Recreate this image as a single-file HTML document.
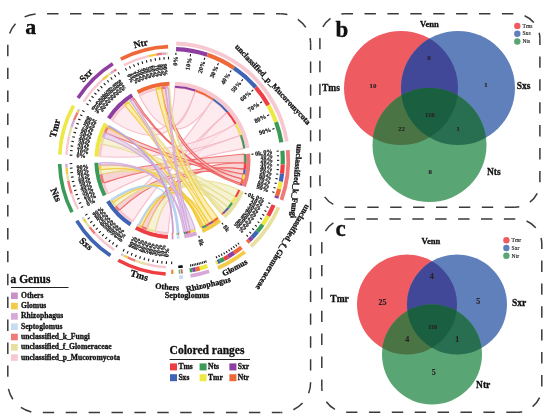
<!DOCTYPE html>
<html><head><meta charset="utf-8"><style>
html,body{margin:0;padding:0;background:#fff;width:550px;height:420px;overflow:hidden}
svg{position:absolute;left:0;top:0;display:block}
text{font-family:"Liberation Serif","Times New Roman",serif;font-weight:bold;fill:#111;stroke:#111;stroke-width:0.3px}
.tl{font-size:6px;fill:#1a1a1a;stroke:#1a1a1a;stroke-width:0.25px}
.tlg{font-size:6.2px;fill:#1a1a1a;stroke:#1a1a1a;stroke-width:0.2px}
.sl{font-size:9.6px}
.gl{font-size:8.2px}
.lt{font-size:11.5px}
.li{font-size:7.6px}
.vn{font-size:6.8px;fill:#2a2226;stroke:#2a2226;stroke-width:0.15px}
.vn2{font-size:8px;fill:#2a2226;stroke:#2a2226;stroke-width:0.15px}
.vl{font-size:9.5px}
.vt{font-size:8.6px}
.lg{font-size:5.6px;font-weight:normal;fill:#222;stroke:#222;stroke-width:0.15px}
.pl{font-size:23px}
</style></head><body>
<svg width="550" height="420" viewBox="0 0 550 420">
<rect width="550" height="420" fill="#fff"/>
<g fill="none" stroke="#3a3a3a" stroke-width="1.5" stroke-dasharray="11.4 11.5"><path d="M37.80,13.80L280.60,13.80" stroke-dashoffset="13.60"/>
<path d="M280.60,13.80A30,30 0 0 1 310.60,43.80" stroke-dashoffset="4.50"/>
<path d="M310.60,43.80L310.60,382.60" stroke-dashoffset="5.20"/>
<path d="M310.60,382.60A30,30 0 0 1 280.60,412.60" stroke-dashoffset="0.50"/>
<path d="M280.60,412.60L37.80,412.60" stroke-dashoffset="2.60"/>
<path d="M37.80,412.60A30,30 0 0 1 7.80,382.60" stroke-dashoffset="16.40"/>
<path d="M7.80,382.60L7.80,43.80" stroke-dashoffset="17.10"/>
<path d="M7.80,43.80A30,30 0 0 1 37.80,13.80" stroke-dashoffset="12.40"/>
<path d="M344.90,13.80L514.90,13.80" stroke-dashoffset="3.30"/>
<path d="M514.90,13.80A25,25 0 0 1 539.90,38.80" stroke-dashoffset="13.00"/>
<path d="M539.90,38.80L539.90,182.20" stroke-dashoffset="5.30"/>
<path d="M539.90,182.20A25,25 0 0 1 514.90,207.20" stroke-dashoffset="11.30"/>
<path d="M514.90,207.20L344.90,207.20" stroke-dashoffset="1.20"/>
<path d="M344.90,207.20A25,25 0 0 1 319.90,182.20" stroke-dashoffset="10.90"/>
<path d="M319.90,182.20L319.90,38.80" stroke-dashoffset="4.50"/>
<path d="M319.90,38.80A25,25 0 0 1 344.90,13.80" stroke-dashoffset="10.50"/>
<path d="M346.80,219.00L516.80,219.00" stroke-dashoffset="3.20"/>
<path d="M516.80,219.00A25,25 0 0 1 541.80,244.00" stroke-dashoffset="12.90"/>
<path d="M541.80,244.00L541.80,387.30" stroke-dashoffset="6.40"/>
<path d="M541.80,387.30A25,25 0 0 1 516.80,412.30" stroke-dashoffset="12.30"/>
<path d="M516.80,412.30L346.80,412.30" stroke-dashoffset="0.90"/>
<path d="M346.80,412.30A25,25 0 0 1 321.80,387.30" stroke-dashoffset="10.60"/>
<path d="M321.80,387.30L321.80,244.00" stroke-dashoffset="3.50"/>
<path d="M321.80,244.00A25,25 0 0 1 346.80,219.00" stroke-dashoffset="9.40"/></g>
<text x="25.2" y="33.7" class="pl" style="font-size:22px">a</text>
<text x="335.4" y="36.9" class="pl">b</text>
<text x="335.4" y="236" class="pl">c</text>
<g transform="translate(172.4 160.4) scale(1 1.009) translate(-172.4 -160.4)"><g><path d="M174.79,88.44A72.0,72.0 0 0 1 195.13,92.08Q172.4,160.4 112.15,120.98A72.0,72.0 0 0 1 125.16,106.06Q172.4,160.4 174.79,88.44Z" fill="#fce4ea" fill-opacity="0.75" stroke="#f5b5c2" stroke-width="1.1" stroke-opacity="0.85"/><path d="M195.13,92.08A72.0,72.0 0 0 1 212.56,100.64Q172.4,160.4 139.49,96.36A72.0,72.0 0 0 1 156.08,90.27Q172.4,160.4 195.13,92.08Z" fill="#fce4ea" fill-opacity="0.75" stroke="#f5b5c2" stroke-width="1.1" stroke-opacity="0.85"/><path d="M212.56,100.64A72.0,72.0 0 0 1 226.74,113.16Q172.4,160.4 132.87,220.58A72.0,72.0 0 0 1 119.74,209.50Q172.4,160.4 212.56,100.64Z" fill="#fce4ea" fill-opacity="0.75" stroke="#f5b5c2" stroke-width="1.1" stroke-opacity="0.85"/><path d="M226.74,113.16A72.0,72.0 0 0 1 234.94,124.73Q172.4,160.4 168.13,232.27A72.0,72.0 0 0 1 154.98,230.26Q172.4,160.4 226.74,113.16Z" fill="#fce4ea" fill-opacity="0.75" stroke="#f5b5c2" stroke-width="1.1" stroke-opacity="0.85"/><path d="M234.94,124.73A72.0,72.0 0 0 1 240.01,135.66Q172.4,160.4 100.49,156.76A72.0,72.0 0 0 1 102.25,144.20Q172.4,160.4 234.94,124.73Z" fill="#fce4ea" fill-opacity="0.75" stroke="#f5b5c2" stroke-width="1.1" stroke-opacity="0.85"/><path d="M240.01,135.66A72.0,72.0 0 0 1 243.45,148.76Q172.4,160.4 108.30,193.20A72.0,72.0 0 0 1 103.92,182.65Q172.4,160.4 240.01,135.66Z" fill="#fce4ea" fill-opacity="0.75" stroke="#f5b5c2" stroke-width="1.1" stroke-opacity="0.85"/><path d="M244.13,154.12A72.0,72.0 0 0 1 244.35,163.04Q172.4,160.4 103.92,182.65A72.0,72.0 0 0 1 101.68,173.89Q172.4,160.4 244.13,154.12Z" fill="#f6c4c4" fill-opacity="0.75" stroke="#ee5858" stroke-width="1.1" stroke-opacity="0.85"/><path d="M244.35,163.04A72.0,72.0 0 0 1 243.88,169.05Q172.4,160.4 147.19,227.84A72.0,72.0 0 0 1 141.97,225.65Q172.4,160.4 244.35,163.04Z" fill="#f6c4c4" fill-opacity="0.75" stroke="#ee5858" stroke-width="1.1" stroke-opacity="0.85"/><path d="M243.88,169.05A72.0,72.0 0 0 1 243.08,174.14Q172.4,160.4 119.74,209.50A72.0,72.0 0 0 1 116.21,205.42Q172.4,160.4 243.88,169.05Z" fill="#f6c4c4" fill-opacity="0.75" stroke="#ee5858" stroke-width="1.1" stroke-opacity="0.85"/><path d="M243.08,174.14A72.0,72.0 0 0 1 241.98,178.91Q172.4,160.4 105.69,133.31A72.0,72.0 0 0 1 108.02,128.16Q172.4,160.4 243.08,174.14Z" fill="#f6c4c4" fill-opacity="0.75" stroke="#ee5858" stroke-width="1.1" stroke-opacity="0.85"/><path d="M241.98,178.91A72.0,72.0 0 0 1 240.64,183.37Q172.4,160.4 161.51,89.23A72.0,72.0 0 0 1 165.62,88.72Q172.4,160.4 241.98,178.91Z" fill="#f6c4c4" fill-opacity="0.75" stroke="#ee5858" stroke-width="1.1" stroke-opacity="0.85"/><path d="M240.64,183.37A72.0,72.0 0 0 1 240.14,184.79Q172.4,160.4 132.77,100.29A72.0,72.0 0 0 1 134.35,99.27Q172.4,160.4 240.64,183.37Z" fill="#f6c4c4" fill-opacity="0.75" stroke="#ee5858" stroke-width="1.1" stroke-opacity="0.85"/><path d="M238.38,189.23A72.0,72.0 0 0 1 234.82,196.29Q172.4,160.4 154.98,230.26A72.0,72.0 0 0 1 147.19,227.84Q172.4,160.4 238.38,189.23Z" fill="#f3efc6" fill-opacity="0.75" stroke="#e6dc8a" stroke-width="1.1" stroke-opacity="0.85"/><path d="M234.82,196.29A72.0,72.0 0 0 1 231.23,201.90Q172.4,160.4 102.25,144.20A72.0,72.0 0 0 1 103.96,138.03Q172.4,160.4 234.82,196.29Z" fill="#f3efc6" fill-opacity="0.75" stroke="#e6dc8a" stroke-width="1.1" stroke-opacity="0.85"/><path d="M231.23,201.90A72.0,72.0 0 0 1 227.72,206.49Q172.4,160.4 101.68,173.89A72.0,72.0 0 0 1 101.00,169.67Q172.4,160.4 231.23,201.90Z" fill="#f3efc6" fill-opacity="0.75" stroke="#e6dc8a" stroke-width="1.1" stroke-opacity="0.85"/><path d="M227.72,206.49A72.0,72.0 0 0 1 224.37,210.23Q172.4,160.4 116.21,205.42A72.0,72.0 0 0 1 113.57,201.90Q172.4,160.4 227.72,206.49Z" fill="#f3efc6" fill-opacity="0.75" stroke="#e6dc8a" stroke-width="1.1" stroke-opacity="0.85"/><path d="M224.37,210.23A72.0,72.0 0 0 1 222.42,212.19Q172.4,160.4 128.57,103.28A72.0,72.0 0 0 1 130.59,101.78Q172.4,160.4 224.37,210.23Z" fill="#f3efc6" fill-opacity="0.75" stroke="#e6dc8a" stroke-width="1.1" stroke-opacity="0.85"/><path d="M222.42,212.19A72.0,72.0 0 0 1 221.23,213.31Q172.4,160.4 168.26,88.52A72.0,72.0 0 0 1 169.64,88.45Q172.4,160.4 222.42,212.19Z" fill="#f3efc6" fill-opacity="0.75" stroke="#e6dc8a" stroke-width="1.1" stroke-opacity="0.85"/><path d="M217.42,216.59A72.0,72.0 0 0 1 212.56,220.16Q172.4,160.4 156.08,90.27A72.0,72.0 0 0 1 161.51,89.23Q172.4,160.4 217.42,216.59Z" fill="#f9ea9c" fill-opacity="0.75" stroke="#f2c830" stroke-width="1.1" stroke-opacity="0.85"/><path d="M212.56,220.16A72.0,72.0 0 0 1 208.73,222.56Q172.4,160.4 125.16,106.06A72.0,72.0 0 0 1 128.57,103.28Q172.4,160.4 212.56,220.16Z" fill="#f9ea9c" fill-opacity="0.75" stroke="#f2c830" stroke-width="1.1" stroke-opacity="0.85"/><path d="M208.73,222.56A72.0,72.0 0 0 1 206.09,224.03Q172.4,160.4 141.97,225.65A72.0,72.0 0 0 1 139.38,224.38Q172.4,160.4 208.73,222.56Z" fill="#f9ea9c" fill-opacity="0.75" stroke="#f2c830" stroke-width="1.1" stroke-opacity="0.85"/><path d="M206.09,224.03A72.0,72.0 0 0 1 203.28,225.44Q172.4,160.4 101.00,169.67A72.0,72.0 0 0 1 100.56,165.17Q172.4,160.4 206.09,224.03Z" fill="#f9ea9c" fill-opacity="0.75" stroke="#f2c830" stroke-width="1.1" stroke-opacity="0.85"/><path d="M203.28,225.44A72.0,72.0 0 0 1 201.80,226.12Q172.4,160.4 113.57,201.90A72.0,72.0 0 0 1 112.15,199.82Q172.4,160.4 203.28,225.44Z" fill="#f9ea9c" fill-opacity="0.75" stroke="#f2c830" stroke-width="1.1" stroke-opacity="0.85"/><path d="M201.80,226.12A72.0,72.0 0 0 1 200.65,226.63Q172.4,160.4 108.02,128.16A72.0,72.0 0 0 1 108.65,126.93Q172.4,160.4 201.80,226.12Z" fill="#f9ea9c" fill-opacity="0.75" stroke="#f2c830" stroke-width="1.1" stroke-opacity="0.85"/><path d="M195.25,228.68A72.0,72.0 0 0 1 190.18,230.17Q172.4,160.4 103.96,138.03A72.0,72.0 0 0 1 105.69,133.31Q172.4,160.4 195.25,228.68Z" fill="#e4cce8" fill-opacity="0.75" stroke="#d0a8dc" stroke-width="1.1" stroke-opacity="0.85"/><path d="M190.18,230.17A72.0,72.0 0 0 1 187.49,230.80Q172.4,160.4 165.62,88.72A72.0,72.0 0 0 1 168.26,88.52Q172.4,160.4 190.18,230.17Z" fill="#e4cce8" fill-opacity="0.75" stroke="#d0a8dc" stroke-width="1.1" stroke-opacity="0.85"/><path d="M187.49,230.80A72.0,72.0 0 0 1 185.40,231.22Q172.4,160.4 130.59,101.78A72.0,72.0 0 0 1 132.77,100.29Q172.4,160.4 187.49,230.80Z" fill="#e4cce8" fill-opacity="0.75" stroke="#d0a8dc" stroke-width="1.1" stroke-opacity="0.85"/><path d="M185.40,231.22A72.0,72.0 0 0 1 183.66,231.51Q172.4,160.4 100.56,165.17A72.0,72.0 0 0 1 100.44,162.66Q172.4,160.4 185.40,231.22Z" fill="#e4cce8" fill-opacity="0.75" stroke="#d0a8dc" stroke-width="1.1" stroke-opacity="0.85"/><path d="M179.05,232.09A72.0,72.0 0 0 1 178.42,232.15Q172.4,160.4 139.38,224.38A72.0,72.0 0 0 1 138.38,223.85Q172.4,160.4 179.05,232.09Z" fill="#d8e8f8" fill-opacity="0.75" stroke="#b0d0f0" stroke-width="1.1" stroke-opacity="0.85"/><path d="M178.42,232.15A72.0,72.0 0 0 1 177.80,232.20Q172.4,160.4 112.15,199.82A72.0,72.0 0 0 1 111.34,198.55Q172.4,160.4 178.42,232.15Z" fill="#d8e8f8" fill-opacity="0.75" stroke="#b0d0f0" stroke-width="1.1" stroke-opacity="0.85"/><path d="M177.80,232.20A72.0,72.0 0 0 1 177.17,232.24Q172.4,160.4 108.89,126.49A72.0,72.0 0 0 1 109.25,125.82Q172.4,160.4 177.80,232.20Z" fill="#d8e8f8" fill-opacity="0.75" stroke="#b0d0f0" stroke-width="1.1" stroke-opacity="0.85"/><path d="M173.41,232.39A72.0,72.0 0 0 1 172.59,232.40Q172.4,160.4 108.65,126.93A72.0,72.0 0 0 1 108.89,126.49Q172.4,160.4 173.41,232.39Z" fill="#e0c0e0" fill-opacity="0.75" stroke="#c890d0" stroke-width="1.1" stroke-opacity="0.85"/></g>
<path d="M174.99,82.34A78.1,78.1 0 0 1 249.47,147.78L245.43,148.44A74.0,74.0 0 0 0 174.85,86.44Z" fill="#f8c8d0"/>
<path d="M174.85,86.44A74.0,74.0 0 0 1 195.76,90.18L195.13,92.08A72.0,72.0 0 0 0 174.79,88.44Z" fill="#8e3ea0"/>
<path d="M195.76,90.18A74.0,74.0 0 0 1 213.67,98.98L212.56,100.64A72.0,72.0 0 0 0 195.13,92.08Z" fill="#ee6838"/>
<path d="M213.67,98.98A74.0,74.0 0 0 1 228.25,111.85L226.74,113.16A72.0,72.0 0 0 0 212.56,100.64Z" fill="#4064b4"/>
<path d="M228.25,111.85A74.0,74.0 0 0 1 236.68,123.74L234.94,124.73A72.0,72.0 0 0 0 226.74,113.16Z" fill="#ee3e44"/>
<path d="M236.68,123.74A74.0,74.0 0 0 1 241.89,134.97L240.01,135.66A72.0,72.0 0 0 0 234.94,124.73Z" fill="#eee844"/>
<path d="M241.89,134.97A74.0,74.0 0 0 1 245.43,148.44L243.45,148.76A72.0,72.0 0 0 0 240.01,135.66Z" fill="#3c9a58"/>
<path d="M250.20,153.59A78.1,78.1 0 0 1 245.88,186.86L242.03,185.47A74.0,74.0 0 0 0 246.12,153.95Z" fill="#ee7a7a"/>
<path d="M246.12,153.95A74.0,74.0 0 0 1 246.35,163.11L244.35,163.04A72.0,72.0 0 0 0 244.13,154.12Z" fill="#3c9a58"/>
<path d="M246.35,163.11A74.0,74.0 0 0 1 245.86,169.29L243.88,169.05A72.0,72.0 0 0 0 244.35,163.04Z" fill="#ee3e44"/>
<path d="M245.86,169.29A74.0,74.0 0 0 1 245.04,174.52L243.08,174.14A72.0,72.0 0 0 0 243.88,169.05Z" fill="#4064b4"/>
<path d="M245.04,174.52A74.0,74.0 0 0 1 243.91,179.43L241.98,178.91A72.0,72.0 0 0 0 243.08,174.14Z" fill="#eee844"/>
<path d="M243.91,179.43A74.0,74.0 0 0 1 242.53,184.00L240.64,183.37A72.0,72.0 0 0 0 241.98,178.91Z" fill="#ee6838"/>
<path d="M242.53,184.00A74.0,74.0 0 0 1 242.03,185.47L240.14,184.79A72.0,72.0 0 0 0 240.64,183.37Z" fill="#8e3ea0"/>
<path d="M243.97,191.67A78.1,78.1 0 0 1 225.36,217.80L222.58,214.78A74.0,74.0 0 0 0 240.21,190.03Z" fill="#e8e0a0"/>
<path d="M240.21,190.03A74.0,74.0 0 0 1 236.55,197.29L234.82,196.29A72.0,72.0 0 0 0 238.38,189.23Z" fill="#ee3e44"/>
<path d="M236.55,197.29A74.0,74.0 0 0 1 232.87,203.06L231.23,201.90A72.0,72.0 0 0 0 234.82,196.29Z" fill="#eee844"/>
<path d="M232.87,203.06A74.0,74.0 0 0 1 229.25,207.77L227.72,206.49A72.0,72.0 0 0 0 231.23,201.90Z" fill="#3c9a58"/>
<path d="M229.25,207.77A74.0,74.0 0 0 1 225.81,211.62L224.37,210.23A72.0,72.0 0 0 0 227.72,206.49Z" fill="#4064b4"/>
<path d="M225.81,211.62A74.0,74.0 0 0 1 223.80,213.63L222.42,212.19A72.0,72.0 0 0 0 224.37,210.23Z" fill="#8e3ea0"/>
<path d="M223.80,213.63A74.0,74.0 0 0 1 222.58,214.78L221.23,213.31A72.0,72.0 0 0 0 222.42,212.19Z" fill="#ee6838"/>
<path d="M221.23,221.35A78.1,78.1 0 0 1 203.04,232.24L201.43,228.47A74.0,74.0 0 0 0 218.67,218.15Z" fill="#f2cc48"/>
<path d="M218.67,218.15A74.0,74.0 0 0 1 213.67,221.82L212.56,220.16A72.0,72.0 0 0 0 217.42,216.59Z" fill="#ee6838"/>
<path d="M213.67,221.82A74.0,74.0 0 0 1 209.74,224.29L208.73,222.56A72.0,72.0 0 0 0 212.56,220.16Z" fill="#8e3ea0"/>
<path d="M209.74,224.29A74.0,74.0 0 0 1 207.03,225.80L206.09,224.03A72.0,72.0 0 0 0 208.73,222.56Z" fill="#ee3e44"/>
<path d="M207.03,225.80A74.0,74.0 0 0 1 204.14,227.25L203.28,225.44A72.0,72.0 0 0 0 206.09,224.03Z" fill="#3c9a58"/>
<path d="M204.14,227.25A74.0,74.0 0 0 1 202.62,227.95L201.80,226.12A72.0,72.0 0 0 0 203.28,225.44Z" fill="#4064b4"/>
<path d="M202.62,227.95A74.0,74.0 0 0 1 201.43,228.47L200.65,226.63A72.0,72.0 0 0 0 201.80,226.12Z" fill="#eee844"/>
<path d="M197.18,234.46A78.1,78.1 0 0 1 184.62,237.54L183.98,233.49A74.0,74.0 0 0 0 195.88,230.58Z" fill="#d8a8d8"/>
<path d="M195.88,230.58A74.0,74.0 0 0 1 190.68,232.11L190.18,230.17A72.0,72.0 0 0 0 195.25,228.68Z" fill="#eee844"/>
<path d="M190.68,232.11A74.0,74.0 0 0 1 187.91,232.76L187.49,230.80A72.0,72.0 0 0 0 190.18,230.17Z" fill="#ee6838"/>
<path d="M187.91,232.76A74.0,74.0 0 0 1 185.76,233.18L185.40,231.22A72.0,72.0 0 0 0 187.49,230.80Z" fill="#8e3ea0"/>
<path d="M185.76,233.18A74.0,74.0 0 0 1 183.98,233.49L183.66,231.51A72.0,72.0 0 0 0 185.40,231.22Z" fill="#3c9a58"/>
<path d="M179.61,238.17A78.1,78.1 0 0 1 176.90,238.37L176.66,234.28A74.0,74.0 0 0 0 179.24,234.08Z" fill="#c8dcf0"/>
<path d="M179.24,234.08A74.0,74.0 0 0 1 178.59,234.14L178.42,232.15A72.0,72.0 0 0 0 179.05,232.09Z" fill="#ee3e44"/>
<path d="M178.59,234.14A74.0,74.0 0 0 1 177.95,234.19L177.80,232.20A72.0,72.0 0 0 0 178.42,232.15Z" fill="#4064b4"/>
<path d="M177.95,234.19A74.0,74.0 0 0 1 177.30,234.24L177.17,232.24A72.0,72.0 0 0 0 177.80,232.20Z" fill="#eee844"/>
<path d="M177.30,234.24A74.0,74.0 0 0 1 176.66,234.28L176.54,232.28A72.0,72.0 0 0 0 177.17,232.24Z" fill="#3c9a58"/>
<path d="M173.49,238.49A78.1,78.1 0 0 1 171.72,238.50L171.75,234.40A74.0,74.0 0 0 0 173.43,234.39Z" fill="#c990c8"/>
<path d="M173.43,234.39A74.0,74.0 0 0 1 172.59,234.40L172.59,232.40A72.0,72.0 0 0 0 173.41,232.39Z" fill="#eee844"/>
<path d="M172.59,234.40A74.0,74.0 0 0 1 171.75,234.40L171.77,232.40A72.0,72.0 0 0 0 172.59,232.40Z" fill="#ee3e44"/>
<path d="M167.77,238.36A78.1,78.1 0 0 1 134.89,228.91L136.86,225.31A74.0,74.0 0 0 0 168.01,234.27Z" fill="#ee3e44"/>
<path d="M168.01,234.27A74.0,74.0 0 0 1 154.50,232.20L154.98,230.26A72.0,72.0 0 0 0 168.13,232.27Z" fill="#f8c8d0"/>
<path d="M154.50,232.20A74.0,74.0 0 0 1 146.48,229.71L147.19,227.84A72.0,72.0 0 0 0 154.98,230.26Z" fill="#e8e0a0"/>
<path d="M146.48,229.71A74.0,74.0 0 0 1 141.13,227.47L141.97,225.65A72.0,72.0 0 0 0 147.19,227.84Z" fill="#ee7a7a"/>
<path d="M141.13,227.47A74.0,74.0 0 0 1 138.46,226.16L139.38,224.38A72.0,72.0 0 0 0 141.97,225.65Z" fill="#f2cc48"/>
<path d="M138.46,226.16A74.0,74.0 0 0 1 137.43,225.62L138.38,223.85A72.0,72.0 0 0 0 139.38,224.38Z" fill="#c8dcf0"/>
<path d="M137.43,225.62A74.0,74.0 0 0 1 136.86,225.31L137.82,223.55A72.0,72.0 0 0 0 138.38,223.85Z" fill="#c990c8"/>
<path d="M129.52,225.68A78.1,78.1 0 0 1 106.17,201.79L109.64,199.61A74.0,74.0 0 0 0 131.77,222.25Z" fill="#4064b4"/>
<path d="M131.77,222.25A74.0,74.0 0 0 1 118.28,210.87L119.74,209.50A72.0,72.0 0 0 0 132.87,220.58Z" fill="#f8c8d0"/>
<path d="M118.28,210.87A74.0,74.0 0 0 1 114.65,206.67L116.21,205.42A72.0,72.0 0 0 0 119.74,209.50Z" fill="#ee7a7a"/>
<path d="M114.65,206.67A74.0,74.0 0 0 1 111.93,203.06L113.57,201.90A72.0,72.0 0 0 0 116.21,205.42Z" fill="#e8e0a0"/>
<path d="M111.93,203.06A74.0,74.0 0 0 1 110.48,200.92L112.15,199.82A72.0,72.0 0 0 0 113.57,201.90Z" fill="#f2cc48"/>
<path d="M110.48,200.92A74.0,74.0 0 0 1 109.64,199.61L111.34,198.55A72.0,72.0 0 0 0 112.15,199.82Z" fill="#c8dcf0"/>
<path d="M102.87,195.98A78.1,78.1 0 0 1 94.34,162.85L98.44,162.72A74.0,74.0 0 0 0 106.52,194.11Z" fill="#3c9a58"/>
<path d="M106.52,194.11A74.0,74.0 0 0 1 102.02,183.27L103.92,182.65A72.0,72.0 0 0 0 108.30,193.20Z" fill="#f8c8d0"/>
<path d="M102.02,183.27A74.0,74.0 0 0 1 99.71,174.27L101.68,173.89A72.0,72.0 0 0 0 103.92,182.65Z" fill="#ee7a7a"/>
<path d="M99.71,174.27A74.0,74.0 0 0 1 99.02,169.93L101.00,169.67A72.0,72.0 0 0 0 101.68,173.89Z" fill="#e8e0a0"/>
<path d="M99.02,169.93A74.0,74.0 0 0 1 98.56,165.30L100.56,165.17A72.0,72.0 0 0 0 101.00,169.67Z" fill="#f2cc48"/>
<path d="M98.56,165.30A74.0,74.0 0 0 1 98.44,162.72L100.44,162.66A72.0,72.0 0 0 0 100.56,165.17Z" fill="#d8a8d8"/>
<path d="M94.40,156.45A78.1,78.1 0 0 1 103.89,122.89L107.49,124.86A74.0,74.0 0 0 0 98.49,156.66Z" fill="#eee844"/>
<path d="M98.49,156.66A74.0,74.0 0 0 1 100.30,143.75L102.25,144.20A72.0,72.0 0 0 0 100.49,156.76Z" fill="#f8c8d0"/>
<path d="M100.30,143.75A74.0,74.0 0 0 1 102.06,137.41L103.96,138.03A72.0,72.0 0 0 0 102.25,144.20Z" fill="#e8e0a0"/>
<path d="M102.06,137.41A74.0,74.0 0 0 1 103.84,132.56L105.69,133.31A72.0,72.0 0 0 0 103.96,138.03Z" fill="#d8a8d8"/>
<path d="M103.84,132.56A74.0,74.0 0 0 1 106.23,127.27L108.02,128.16A72.0,72.0 0 0 0 105.69,133.31Z" fill="#ee7a7a"/>
<path d="M106.23,127.27A74.0,74.0 0 0 1 106.88,126.00L108.65,126.93A72.0,72.0 0 0 0 108.02,128.16Z" fill="#f2cc48"/>
<path d="M106.88,126.00A74.0,74.0 0 0 1 107.12,125.55L108.89,126.49A72.0,72.0 0 0 0 108.65,126.93Z" fill="#c990c8"/>
<path d="M107.12,125.55A74.0,74.0 0 0 1 107.49,124.86L109.25,125.82A72.0,72.0 0 0 0 108.89,126.49Z" fill="#c8dcf0"/>
<path d="M107.05,117.64A78.1,78.1 0 0 1 131.13,94.10L133.30,97.58A74.0,74.0 0 0 0 110.48,119.88Z" fill="#8e3ea0"/>
<path d="M110.48,119.88A74.0,74.0 0 0 1 123.85,104.55L125.16,106.06A72.0,72.0 0 0 0 112.15,120.98Z" fill="#f8c8d0"/>
<path d="M123.85,104.55A74.0,74.0 0 0 1 127.35,101.69L128.57,103.28A72.0,72.0 0 0 0 125.16,106.06Z" fill="#f2cc48"/>
<path d="M127.35,101.69A74.0,74.0 0 0 1 129.43,100.16L130.59,101.78A72.0,72.0 0 0 0 128.57,103.28Z" fill="#e8e0a0"/>
<path d="M129.43,100.16A74.0,74.0 0 0 1 131.66,98.62L132.77,100.29A72.0,72.0 0 0 0 130.59,101.78Z" fill="#d8a8d8"/>
<path d="M131.66,98.62A74.0,74.0 0 0 1 133.30,97.58L134.35,99.27A72.0,72.0 0 0 0 132.77,100.29Z" fill="#ee7a7a"/>
<path d="M136.70,90.94A78.1,78.1 0 0 1 169.40,82.36L169.56,86.45A74.0,74.0 0 0 0 138.57,94.58Z" fill="#ee6838"/>
<path d="M138.57,94.58A74.0,74.0 0 0 1 155.63,88.33L156.08,90.27A72.0,72.0 0 0 0 139.49,96.36Z" fill="#f8c8d0"/>
<path d="M155.63,88.33A74.0,74.0 0 0 1 161.21,87.25L161.51,89.23A72.0,72.0 0 0 0 156.08,90.27Z" fill="#f2cc48"/>
<path d="M161.21,87.25A74.0,74.0 0 0 1 165.44,86.73L165.62,88.72A72.0,72.0 0 0 0 161.51,89.23Z" fill="#ee7a7a"/>
<path d="M165.44,86.73A74.0,74.0 0 0 1 168.14,86.52L168.26,88.52A72.0,72.0 0 0 0 165.62,88.72Z" fill="#d8a8d8"/>
<path d="M168.14,86.52A74.0,74.0 0 0 1 169.56,86.45L169.64,88.45A72.0,72.0 0 0 0 168.26,88.52Z" fill="#e8e0a0"/>
<path d="M176.31,42.66A117.8,117.8 0 0 1 288.65,141.36L284.90,141.98A114.0,114.0 0 0 0 176.18,46.46Z" fill="#f8c8d0"/>
<path d="M176.13,47.96A112.5,112.5 0 0 1 207.91,53.65L206.58,57.64A108.3,108.3 0 0 0 175.99,52.16Z" fill="#8e3ea0"/>
<path d="M207.91,53.65A112.5,112.5 0 0 1 235.15,67.02L232.80,70.51A108.3,108.3 0 0 0 206.58,57.64Z" fill="#ee6838"/>
<path d="M235.15,67.02A112.5,112.5 0 0 1 257.30,86.59L254.14,89.35A108.3,108.3 0 0 0 232.80,70.51Z" fill="#4064b4"/>
<path d="M257.30,86.59A112.5,112.5 0 0 1 270.12,104.66L266.47,106.74A108.3,108.3 0 0 0 254.14,89.35Z" fill="#ee3e44"/>
<path d="M270.12,104.66A112.5,112.5 0 0 1 278.05,121.74L274.10,123.18A108.3,108.3 0 0 0 266.47,106.74Z" fill="#eee844"/>
<path d="M278.05,121.74A112.5,112.5 0 0 1 283.42,142.22L279.28,142.90A108.3,108.3 0 0 0 274.10,123.18Z" fill="#3c9a58"/>
<path d="M289.75,150.13A117.8,117.8 0 0 1 283.24,200.30L279.66,199.02A114.0,114.0 0 0 0 285.97,150.46Z" fill="#ee7a7a"/>
<path d="M284.47,150.59A112.5,112.5 0 0 1 284.82,164.52L280.63,164.37A108.3,108.3 0 0 0 280.29,150.96Z" fill="#3c9a58"/>
<path d="M284.82,164.52A112.5,112.5 0 0 1 284.09,173.92L279.92,173.41A108.3,108.3 0 0 0 280.63,164.37Z" fill="#ee3e44"/>
<path d="M284.09,173.92A112.5,112.5 0 0 1 282.83,181.87L278.71,181.06A108.3,108.3 0 0 0 279.92,173.41Z" fill="#4064b4"/>
<path d="M282.83,181.87A112.5,112.5 0 0 1 281.12,189.33L277.06,188.25A108.3,108.3 0 0 0 278.71,181.06Z" fill="#eee844"/>
<path d="M281.12,189.33A112.5,112.5 0 0 1 279.02,196.28L275.04,194.94A108.3,108.3 0 0 0 277.06,188.25Z" fill="#ee6838"/>
<path d="M279.02,196.28A112.5,112.5 0 0 1 278.25,198.51L274.30,197.09A108.3,108.3 0 0 0 275.04,194.94Z" fill="#8e3ea0"/>
<path d="M280.35,207.56A117.8,117.8 0 0 1 252.29,246.97L249.71,244.18A114.0,114.0 0 0 0 276.87,206.04Z" fill="#e8e0a0"/>
<path d="M275.49,205.44A112.5,112.5 0 0 1 269.93,216.48L266.28,214.39A108.3,108.3 0 0 0 271.64,203.76Z" fill="#ee3e44"/>
<path d="M269.93,216.48A112.5,112.5 0 0 1 264.33,225.25L260.90,222.83A108.3,108.3 0 0 0 266.28,214.39Z" fill="#eee844"/>
<path d="M264.33,225.25A112.5,112.5 0 0 1 258.83,232.41L255.61,229.72A108.3,108.3 0 0 0 260.90,222.83Z" fill="#3c9a58"/>
<path d="M258.83,232.41A112.5,112.5 0 0 1 253.60,238.27L250.57,235.36A108.3,108.3 0 0 0 255.61,229.72Z" fill="#4064b4"/>
<path d="M253.60,238.27A112.5,112.5 0 0 1 250.55,241.33L247.63,238.30A108.3,108.3 0 0 0 250.57,235.36Z" fill="#8e3ea0"/>
<path d="M250.55,241.33A112.5,112.5 0 0 1 248.69,243.08L245.84,239.99A108.3,108.3 0 0 0 247.63,238.30Z" fill="#ee6838"/>
<path d="M246.05,252.33A117.8,117.8 0 0 1 218.62,268.75L217.13,265.26A114.0,114.0 0 0 0 243.68,249.37Z" fill="#f2cc48"/>
<path d="M242.74,248.20A112.5,112.5 0 0 1 235.15,253.78L232.80,250.29A108.3,108.3 0 0 0 240.11,244.92Z" fill="#ee6838"/>
<path d="M235.15,253.78A112.5,112.5 0 0 1 229.16,257.53L227.04,253.91A108.3,108.3 0 0 0 232.80,250.29Z" fill="#8e3ea0"/>
<path d="M229.16,257.53A112.5,112.5 0 0 1 225.04,259.82L223.08,256.11A108.3,108.3 0 0 0 227.04,253.91Z" fill="#ee3e44"/>
<path d="M225.04,259.82A112.5,112.5 0 0 1 220.66,262.03L218.85,258.23A108.3,108.3 0 0 0 223.08,256.11Z" fill="#3c9a58"/>
<path d="M220.66,262.03A112.5,112.5 0 0 1 218.34,263.09L216.62,259.26A108.3,108.3 0 0 0 218.85,258.23Z" fill="#4064b4"/>
<path d="M218.34,263.09A112.5,112.5 0 0 1 216.54,263.88L214.89,260.02A108.3,108.3 0 0 0 216.62,259.26Z" fill="#eee844"/>
<path d="M209.78,272.11A117.8,117.8 0 0 1 190.83,276.75L190.23,273.00A114.0,114.0 0 0 0 208.57,268.51Z" fill="#d8a8d8"/>
<path d="M208.10,267.09A112.5,112.5 0 0 1 200.19,269.41L199.15,265.34A108.3,108.3 0 0 0 206.76,263.10Z" fill="#eee844"/>
<path d="M200.19,269.41A112.5,112.5 0 0 1 195.98,270.40L195.10,266.29A108.3,108.3 0 0 0 199.15,265.34Z" fill="#ee6838"/>
<path d="M195.98,270.40A112.5,112.5 0 0 1 192.71,271.05L191.95,266.92A108.3,108.3 0 0 0 195.10,266.29Z" fill="#8e3ea0"/>
<path d="M192.71,271.05A112.5,112.5 0 0 1 190.00,271.51L189.34,267.37A108.3,108.3 0 0 0 191.95,266.92Z" fill="#3c9a58"/>
<path d="M183.28,277.70A117.8,117.8 0 0 1 179.18,278.00L178.96,274.21A114.0,114.0 0 0 0 182.93,273.91Z" fill="#c8dcf0"/>
<path d="M182.79,272.42A112.5,112.5 0 0 1 181.81,272.51L181.46,268.32A108.3,108.3 0 0 0 182.40,268.24Z" fill="#ee3e44"/>
<path d="M181.81,272.51A112.5,112.5 0 0 1 180.84,272.58L180.52,268.40A108.3,108.3 0 0 0 181.46,268.32Z" fill="#4064b4"/>
<path d="M180.84,272.58A112.5,112.5 0 0 1 179.86,272.65L179.58,268.46A108.3,108.3 0 0 0 180.52,268.40Z" fill="#eee844"/>
<path d="M179.86,272.65A112.5,112.5 0 0 1 178.88,272.71L178.63,268.52A108.3,108.3 0 0 0 179.58,268.46Z" fill="#3c9a58"/>
<path d="M173.97,272.89A112.5,112.5 0 0 1 172.69,272.90L172.68,268.70A108.3,108.3 0 0 0 173.91,268.69Z" fill="#eee844"/>
<path d="M172.69,272.90A112.5,112.5 0 0 1 171.42,272.90L171.45,268.70A108.3,108.3 0 0 0 172.68,268.70Z" fill="#ee3e44"/>
<path d="M165.60,274.80A114.6,114.6 0 0 1 117.37,260.92L119.10,257.76A111.0,111.0 0 0 0 165.82,271.20Z" fill="#ee3e44"/>
<path d="M166.04,267.51A107.3,107.3 0 0 1 146.44,264.51L147.02,262.18A104.9,104.9 0 0 0 166.18,265.12Z" fill="#f8c8d0"/>
<path d="M146.44,264.51A107.3,107.3 0 0 1 134.82,260.90L135.66,258.66A104.9,104.9 0 0 0 147.02,262.18Z" fill="#e8e0a0"/>
<path d="M134.82,260.90A107.3,107.3 0 0 1 127.05,257.65L128.07,255.47A104.9,104.9 0 0 0 135.66,258.66Z" fill="#ee7a7a"/>
<path d="M127.05,257.65A107.3,107.3 0 0 1 123.19,255.75L124.29,253.62A104.9,104.9 0 0 0 128.07,255.47Z" fill="#f2cc48"/>
<path d="M123.19,255.75A107.3,107.3 0 0 1 121.70,254.96L122.83,252.85A104.9,104.9 0 0 0 124.29,253.62Z" fill="#c8dcf0"/>
<path d="M121.70,254.96A107.3,107.3 0 0 1 120.87,254.52L122.02,252.41A104.9,104.9 0 0 0 122.83,252.85Z" fill="#c990c8"/>
<path d="M109.48,256.18A114.6,114.6 0 0 1 75.21,221.13L78.27,219.22A111.0,111.0 0 0 0 111.46,253.17Z" fill="#4064b4"/>
<path d="M113.49,250.08A107.3,107.3 0 0 1 93.93,233.58L95.68,231.94A104.9,104.9 0 0 0 114.81,248.08Z" fill="#f8c8d0"/>
<path d="M93.93,233.58A107.3,107.3 0 0 1 88.66,227.49L90.53,225.99A104.9,104.9 0 0 0 95.68,231.94Z" fill="#ee7a7a"/>
<path d="M88.66,227.49A107.3,107.3 0 0 1 84.72,222.25L86.68,220.87A104.9,104.9 0 0 0 90.53,225.99Z" fill="#e8e0a0"/>
<path d="M84.72,222.25A107.3,107.3 0 0 1 82.62,219.15L84.62,217.84A104.9,104.9 0 0 0 86.68,220.87Z" fill="#f2cc48"/>
<path d="M82.62,219.15A107.3,107.3 0 0 1 81.40,217.26L83.44,215.99A104.9,104.9 0 0 0 84.62,217.84Z" fill="#c8dcf0"/>
<path d="M70.38,212.61A114.6,114.6 0 0 1 57.86,164.00L61.45,163.89A111.0,111.0 0 0 0 73.59,210.97Z" fill="#3c9a58"/>
<path d="M76.88,209.28A107.3,107.3 0 0 1 70.35,193.56L72.63,192.82A104.9,104.9 0 0 0 79.02,208.19Z" fill="#f8c8d0"/>
<path d="M70.35,193.56A107.3,107.3 0 0 1 67.00,180.51L69.36,180.06A104.9,104.9 0 0 0 72.63,192.82Z" fill="#ee7a7a"/>
<path d="M67.00,180.51A107.3,107.3 0 0 1 65.99,174.22L68.37,173.91A104.9,104.9 0 0 0 69.36,180.06Z" fill="#e8e0a0"/>
<path d="M65.99,174.22A107.3,107.3 0 0 1 65.34,167.51L67.73,167.35A104.9,104.9 0 0 0 68.37,173.91Z" fill="#f2cc48"/>
<path d="M65.34,167.51A107.3,107.3 0 0 1 65.15,163.77L67.55,163.69A104.9,104.9 0 0 0 67.73,167.35Z" fill="#d8a8d8"/>
<path d="M57.95,154.60A114.6,114.6 0 0 1 71.88,105.37L75.04,107.10A111.0,111.0 0 0 0 61.54,154.78Z" fill="#eee844"/>
<path d="M65.24,154.97A107.3,107.3 0 0 1 67.85,136.26L70.19,136.80A104.9,104.9 0 0 0 67.63,155.09Z" fill="#f8c8d0"/>
<path d="M67.85,136.26A107.3,107.3 0 0 1 70.41,127.06L72.69,127.81A104.9,104.9 0 0 0 70.19,136.80Z" fill="#e8e0a0"/>
<path d="M70.41,127.06A107.3,107.3 0 0 1 72.98,120.03L75.21,120.93A104.9,104.9 0 0 0 72.69,127.81Z" fill="#d8a8d8"/>
<path d="M72.98,120.03A107.3,107.3 0 0 1 76.46,112.36L78.60,113.43A104.9,104.9 0 0 0 75.21,120.93Z" fill="#ee7a7a"/>
<path d="M76.46,112.36A107.3,107.3 0 0 1 77.40,110.52L79.52,111.64A104.9,104.9 0 0 0 78.60,113.43Z" fill="#f2cc48"/>
<path d="M77.40,110.52A107.3,107.3 0 0 1 77.75,109.86L79.86,110.99A104.9,104.9 0 0 0 79.52,111.64Z" fill="#c990c8"/>
<path d="M77.75,109.86A107.3,107.3 0 0 1 78.28,108.87L80.39,110.02A104.9,104.9 0 0 0 79.86,110.99Z" fill="#c8dcf0"/>
<path d="M76.51,97.65A114.6,114.6 0 0 1 111.84,63.11L113.74,66.16A111.0,111.0 0 0 0 79.52,99.62Z" fill="#8e3ea0"/>
<path d="M82.62,101.65A107.3,107.3 0 0 1 102.00,79.42L103.58,81.23A104.9,104.9 0 0 0 84.62,102.96Z" fill="#f8c8d0"/>
<path d="M102.00,79.42A107.3,107.3 0 0 1 107.08,75.27L108.54,77.18A104.9,104.9 0 0 0 103.58,81.23Z" fill="#f2cc48"/>
<path d="M107.08,75.27A107.3,107.3 0 0 1 110.09,73.05L111.48,75.00A104.9,104.9 0 0 0 108.54,77.18Z" fill="#e8e0a0"/>
<path d="M110.09,73.05A107.3,107.3 0 0 1 113.33,70.82L114.65,72.82A104.9,104.9 0 0 0 111.48,75.00Z" fill="#d8a8d8"/>
<path d="M113.33,70.82A107.3,107.3 0 0 1 115.70,69.31L116.97,71.34A104.9,104.9 0 0 0 114.65,72.82Z" fill="#ee7a7a"/>
<path d="M120.02,58.47A114.6,114.6 0 0 1 168.00,45.88L168.14,49.48A111.0,111.0 0 0 0 121.66,61.67Z" fill="#ee6838"/>
<path d="M123.35,64.97A107.3,107.3 0 0 1 148.08,55.89L148.62,58.23A104.9,104.9 0 0 0 124.45,67.10Z" fill="#f8c8d0"/>
<path d="M148.08,55.89A107.3,107.3 0 0 1 156.17,54.33L156.53,56.71A104.9,104.9 0 0 0 148.62,58.23Z" fill="#f2cc48"/>
<path d="M156.17,54.33A107.3,107.3 0 0 1 162.30,53.58L162.53,55.97A104.9,104.9 0 0 0 156.53,56.71Z" fill="#ee7a7a"/>
<path d="M162.30,53.58A107.3,107.3 0 0 1 166.22,53.28L166.36,55.67A104.9,104.9 0 0 0 162.53,55.97Z" fill="#d8a8d8"/>
<path d="M166.22,53.28A107.3,107.3 0 0 1 168.28,53.18L168.37,55.58A104.9,104.9 0 0 0 166.36,55.67Z" fill="#e8e0a0"/>
<g><line x1="175.87" y1="55.86" x2="175.94" y2="53.66" stroke="#111" stroke-width="1.05"/><line x1="190.17" y1="57.32" x2="190.54" y2="55.15" stroke="#111" stroke-width="1.05"/><line x1="204.13" y1="60.73" x2="204.80" y2="58.63" stroke="#111" stroke-width="1.05"/><line x1="217.50" y1="66.02" x2="218.45" y2="64.04" stroke="#111" stroke-width="1.05"/><line x1="230.01" y1="73.10" x2="231.22" y2="71.26" stroke="#111" stroke-width="1.05"/><line x1="241.44" y1="81.82" x2="242.89" y2="80.16" stroke="#111" stroke-width="1.05"/><line x1="251.56" y1="92.02" x2="253.22" y2="90.59" stroke="#111" stroke-width="1.05"/><line x1="260.18" y1="103.52" x2="262.03" y2="102.33" stroke="#111" stroke-width="1.05"/><line x1="267.15" y1="116.09" x2="269.15" y2="115.16" stroke="#111" stroke-width="1.05"/><line x1="272.33" y1="129.50" x2="274.43" y2="128.85" stroke="#111" stroke-width="1.05"/><line x1="276.60" y1="151.28" x2="278.79" y2="151.09" stroke="#111" stroke-width="1.05"/><line x1="276.90" y1="155.80" x2="279.10" y2="155.70" stroke="#111" stroke-width="1.05"/><line x1="277.00" y1="160.33" x2="279.20" y2="160.33" stroke="#111" stroke-width="1.05"/><line x1="276.91" y1="164.85" x2="279.10" y2="164.95" stroke="#111" stroke-width="1.05"/><line x1="276.61" y1="169.37" x2="278.81" y2="169.56" stroke="#111" stroke-width="1.05"/><line x1="276.13" y1="173.87" x2="278.31" y2="174.16" stroke="#111" stroke-width="1.05"/><line x1="275.45" y1="178.35" x2="277.62" y2="178.73" stroke="#111" stroke-width="1.05"/><line x1="274.58" y1="182.79" x2="276.72" y2="183.26" stroke="#111" stroke-width="1.05"/><line x1="273.51" y1="187.19" x2="275.64" y2="187.75" stroke="#111" stroke-width="1.05"/><line x1="272.26" y1="191.54" x2="274.36" y2="192.20" stroke="#111" stroke-width="1.05"/><line x1="268.25" y1="202.28" x2="270.27" y2="203.16" stroke="#111" stroke-width="1.05"/><line x1="266.44" y1="206.20" x2="268.42" y2="207.17" stroke="#111" stroke-width="1.05"/><line x1="264.46" y1="210.05" x2="266.40" y2="211.10" stroke="#111" stroke-width="1.05"/><line x1="262.33" y1="213.82" x2="264.22" y2="214.94" stroke="#111" stroke-width="1.05"/><line x1="260.05" y1="217.49" x2="261.89" y2="218.69" stroke="#111" stroke-width="1.05"/><line x1="257.61" y1="221.07" x2="259.40" y2="222.34" stroke="#111" stroke-width="1.05"/><line x1="255.03" y1="224.54" x2="256.77" y2="225.89" stroke="#111" stroke-width="1.05"/><line x1="252.30" y1="227.90" x2="253.99" y2="229.32" stroke="#111" stroke-width="1.05"/><line x1="249.45" y1="231.15" x2="251.07" y2="232.64" stroke="#111" stroke-width="1.05"/><line x1="246.45" y1="234.27" x2="248.01" y2="235.83" stroke="#111" stroke-width="1.05"/><line x1="237.80" y1="242.03" x2="239.18" y2="243.75" stroke="#111" stroke-width="1.05"/><line x1="235.55" y1="243.78" x2="236.88" y2="245.54" stroke="#111" stroke-width="1.05"/><line x1="233.26" y1="245.47" x2="234.54" y2="247.26" stroke="#111" stroke-width="1.05"/><line x1="230.92" y1="247.10" x2="232.15" y2="248.92" stroke="#111" stroke-width="1.05"/><line x1="228.54" y1="248.66" x2="229.72" y2="250.51" stroke="#111" stroke-width="1.05"/><line x1="226.12" y1="250.15" x2="227.25" y2="252.04" stroke="#111" stroke-width="1.05"/><line x1="223.65" y1="251.58" x2="224.73" y2="253.50" stroke="#111" stroke-width="1.05"/><line x1="221.15" y1="252.94" x2="222.18" y2="254.89" stroke="#111" stroke-width="1.05"/><line x1="218.61" y1="254.24" x2="219.59" y2="256.21" stroke="#111" stroke-width="1.05"/><line x1="216.04" y1="255.46" x2="216.96" y2="257.46" stroke="#111" stroke-width="1.05"/><line x1="205.59" y1="259.59" x2="206.29" y2="261.68" stroke="#111" stroke-width="1.05"/><line x1="203.94" y1="260.13" x2="204.60" y2="262.23" stroke="#111" stroke-width="1.05"/><line x1="202.28" y1="260.64" x2="202.91" y2="262.75" stroke="#111" stroke-width="1.05"/><line x1="200.62" y1="261.12" x2="201.21" y2="263.24" stroke="#111" stroke-width="1.05"/><line x1="198.94" y1="261.58" x2="199.50" y2="263.70" stroke="#111" stroke-width="1.05"/><line x1="197.26" y1="262.00" x2="197.78" y2="264.14" stroke="#111" stroke-width="1.05"/><line x1="195.57" y1="262.40" x2="196.06" y2="264.55" stroke="#111" stroke-width="1.05"/><line x1="193.88" y1="262.77" x2="194.33" y2="264.92" stroke="#111" stroke-width="1.05"/><line x1="192.18" y1="263.11" x2="192.60" y2="265.27" stroke="#111" stroke-width="1.05"/><line x1="190.47" y1="263.43" x2="190.85" y2="265.59" stroke="#111" stroke-width="1.05"/><line x1="182.06" y1="264.55" x2="182.27" y2="266.74" stroke="#111" stroke-width="1.05"/><line x1="181.70" y1="264.59" x2="181.89" y2="266.78" stroke="#111" stroke-width="1.05"/><line x1="181.33" y1="264.62" x2="181.52" y2="266.81" stroke="#111" stroke-width="1.05"/><line x1="180.97" y1="264.65" x2="181.15" y2="266.84" stroke="#111" stroke-width="1.05"/><line x1="180.61" y1="264.68" x2="180.78" y2="266.87" stroke="#111" stroke-width="1.05"/><line x1="180.24" y1="264.71" x2="180.41" y2="266.90" stroke="#111" stroke-width="1.05"/><line x1="179.88" y1="264.73" x2="180.04" y2="266.93" stroke="#111" stroke-width="1.05"/><line x1="179.51" y1="264.76" x2="179.66" y2="266.95" stroke="#111" stroke-width="1.05"/><line x1="179.15" y1="264.78" x2="179.29" y2="266.98" stroke="#111" stroke-width="1.05"/><line x1="178.79" y1="264.80" x2="178.92" y2="267.00" stroke="#111" stroke-width="1.05"/><line x1="171.70" y1="260.60" x2="171.68" y2="263.20" stroke="#111" stroke-width="1.05"/><line x1="166.46" y1="260.42" x2="166.30" y2="263.02" stroke="#111" stroke-width="1.05"/><line x1="162.05" y1="260.06" x2="161.78" y2="262.65" stroke="#111" stroke-width="1.05"/><line x1="157.66" y1="259.51" x2="157.28" y2="262.08" stroke="#111" stroke-width="1.05"/><line x1="153.30" y1="258.76" x2="152.80" y2="261.31" stroke="#111" stroke-width="1.05"/><line x1="148.97" y1="257.82" x2="148.37" y2="260.35" stroke="#111" stroke-width="1.05"/><line x1="144.70" y1="256.69" x2="143.98" y2="259.19" stroke="#111" stroke-width="1.05"/><line x1="140.47" y1="255.38" x2="139.64" y2="257.84" stroke="#111" stroke-width="1.05"/><line x1="136.31" y1="253.88" x2="135.38" y2="256.30" stroke="#111" stroke-width="1.05"/><line x1="132.22" y1="252.19" x2="131.18" y2="254.57" stroke="#111" stroke-width="1.05"/><line x1="128.21" y1="250.33" x2="127.06" y2="252.66" stroke="#111" stroke-width="1.05"/><line x1="124.28" y1="248.29" x2="123.03" y2="250.57" stroke="#111" stroke-width="1.05"/><line x1="117.39" y1="244.15" x2="115.96" y2="246.32" stroke="#111" stroke-width="1.05"/><line x1="113.83" y1="241.70" x2="112.31" y2="243.81" stroke="#111" stroke-width="1.05"/><line x1="110.38" y1="239.10" x2="108.77" y2="241.14" stroke="#111" stroke-width="1.05"/><line x1="107.05" y1="236.35" x2="105.35" y2="238.32" stroke="#111" stroke-width="1.05"/><line x1="103.83" y1="233.47" x2="102.05" y2="235.36" stroke="#111" stroke-width="1.05"/><line x1="100.75" y1="230.44" x2="98.89" y2="232.26" stroke="#111" stroke-width="1.05"/><line x1="97.80" y1="227.29" x2="95.86" y2="229.03" stroke="#111" stroke-width="1.05"/><line x1="94.98" y1="224.01" x2="92.97" y2="225.66" stroke="#111" stroke-width="1.05"/><line x1="92.31" y1="220.62" x2="90.24" y2="222.18" stroke="#111" stroke-width="1.05"/><line x1="89.79" y1="217.11" x2="87.65" y2="218.58" stroke="#111" stroke-width="1.05"/><line x1="87.43" y1="213.50" x2="85.22" y2="214.88" stroke="#111" stroke-width="1.05"/><line x1="83.20" y1="206.05" x2="80.89" y2="207.23" stroke="#111" stroke-width="1.05"/><line x1="81.27" y1="202.06" x2="78.91" y2="203.14" stroke="#111" stroke-width="1.05"/><line x1="79.52" y1="198.00" x2="77.11" y2="198.98" stroke="#111" stroke-width="1.05"/><line x1="77.95" y1="193.86" x2="75.50" y2="194.73" stroke="#111" stroke-width="1.05"/><line x1="76.57" y1="189.66" x2="74.08" y2="190.42" stroke="#111" stroke-width="1.05"/><line x1="75.37" y1="185.40" x2="72.85" y2="186.05" stroke="#111" stroke-width="1.05"/><line x1="74.36" y1="181.10" x2="71.82" y2="181.63" stroke="#111" stroke-width="1.05"/><line x1="73.54" y1="176.75" x2="70.98" y2="177.17" stroke="#111" stroke-width="1.05"/><line x1="72.92" y1="172.37" x2="70.34" y2="172.68" stroke="#111" stroke-width="1.05"/><line x1="72.49" y1="167.97" x2="69.89" y2="168.16" stroke="#111" stroke-width="1.05"/><line x1="72.25" y1="163.55" x2="69.65" y2="163.63" stroke="#111" stroke-width="1.05"/><line x1="72.33" y1="155.33" x2="69.73" y2="155.20" stroke="#111" stroke-width="1.05"/><line x1="72.66" y1="150.83" x2="70.07" y2="150.58" stroke="#111" stroke-width="1.05"/><line x1="73.19" y1="146.35" x2="70.62" y2="145.99" stroke="#111" stroke-width="1.05"/><line x1="73.92" y1="141.90" x2="71.37" y2="141.42" stroke="#111" stroke-width="1.05"/><line x1="74.86" y1="137.49" x2="72.32" y2="136.89" stroke="#111" stroke-width="1.05"/><line x1="75.99" y1="133.12" x2="73.48" y2="132.41" stroke="#111" stroke-width="1.05"/><line x1="77.31" y1="128.81" x2="74.84" y2="127.99" stroke="#111" stroke-width="1.05"/><line x1="78.83" y1="124.56" x2="76.40" y2="123.63" stroke="#111" stroke-width="1.05"/><line x1="80.54" y1="120.38" x2="78.15" y2="119.34" stroke="#111" stroke-width="1.05"/><line x1="82.43" y1="116.29" x2="80.10" y2="115.14" stroke="#111" stroke-width="1.05"/><line x1="84.51" y1="112.28" x2="82.23" y2="111.03" stroke="#111" stroke-width="1.05"/><line x1="88.56" y1="105.53" x2="86.38" y2="104.11" stroke="#111" stroke-width="1.05"/><line x1="91.02" y1="101.94" x2="88.91" y2="100.43" stroke="#111" stroke-width="1.05"/><line x1="93.64" y1="98.46" x2="91.59" y2="96.86" stroke="#111" stroke-width="1.05"/><line x1="96.40" y1="95.10" x2="94.43" y2="93.41" stroke="#111" stroke-width="1.05"/><line x1="99.31" y1="91.86" x2="97.41" y2="90.08" stroke="#111" stroke-width="1.05"/><line x1="102.36" y1="88.75" x2="100.54" y2="86.89" stroke="#111" stroke-width="1.05"/><line x1="105.54" y1="85.77" x2="103.80" y2="83.84" stroke="#111" stroke-width="1.05"/><line x1="108.84" y1="82.94" x2="107.19" y2="80.93" stroke="#111" stroke-width="1.05"/><line x1="112.27" y1="80.25" x2="110.71" y2="78.17" stroke="#111" stroke-width="1.05"/><line x1="115.80" y1="77.71" x2="114.34" y2="75.57" stroke="#111" stroke-width="1.05"/><line x1="119.45" y1="75.33" x2="118.08" y2="73.13" stroke="#111" stroke-width="1.05"/><line x1="126.60" y1="71.28" x2="125.41" y2="68.97" stroke="#111" stroke-width="1.05"/><line x1="130.53" y1="69.37" x2="129.44" y2="67.01" stroke="#111" stroke-width="1.05"/><line x1="134.54" y1="67.63" x2="133.56" y2="65.22" stroke="#111" stroke-width="1.05"/><line x1="138.62" y1="66.06" x2="137.75" y2="63.62" stroke="#111" stroke-width="1.05"/><line x1="142.77" y1="64.68" x2="142.00" y2="62.20" stroke="#111" stroke-width="1.05"/><line x1="146.97" y1="63.48" x2="146.31" y2="60.96" stroke="#111" stroke-width="1.05"/><line x1="151.23" y1="62.46" x2="150.68" y2="59.92" stroke="#111" stroke-width="1.05"/><line x1="155.52" y1="61.63" x2="155.08" y2="59.07" stroke="#111" stroke-width="1.05"/><line x1="159.84" y1="60.99" x2="159.52" y2="58.41" stroke="#111" stroke-width="1.05"/><line x1="164.19" y1="60.54" x2="163.98" y2="57.95" stroke="#111" stroke-width="1.05"/><line x1="168.55" y1="60.27" x2="168.45" y2="57.68" stroke="#111" stroke-width="1.05"/><line x1="251.47" y1="154.32" x2="253.46" y2="154.16" stroke="#111" stroke-width="1.05"/><line x1="244.73" y1="192.91" x2="246.56" y2="193.73" stroke="#111" stroke-width="1.05"/><line x1="221.87" y1="222.37" x2="223.12" y2="223.94" stroke="#111" stroke-width="1.05"/><line x1="198.74" y1="235.20" x2="199.40" y2="237.08" stroke="#111" stroke-width="1.05"/></g>
<g><text x="175.82" y="57.26" transform="rotate(-88.10 175.82 57.26)" text-anchor="end" dy="1.8" class="tlg">0%</text><text x="189.93" y="58.70" transform="rotate(-80.22 189.93 58.70)" text-anchor="end" dy="1.8" class="tlg">10%</text><text x="203.71" y="62.06" transform="rotate(-72.34 203.71 62.06)" text-anchor="end" dy="1.8" class="tlg">20%</text><text x="216.89" y="67.28" transform="rotate(-64.46 216.89 67.28)" text-anchor="end" dy="1.8" class="tlg">30%</text><text x="229.24" y="74.26" transform="rotate(-56.58 229.24 74.26)" text-anchor="end" dy="1.8" class="tlg">40%</text><text x="240.51" y="82.87" transform="rotate(-48.70 240.51 82.87)" text-anchor="end" dy="1.8" class="tlg">50%</text><text x="250.50" y="92.94" transform="rotate(-40.82 250.50 92.94)" text-anchor="end" dy="1.8" class="tlg">60%</text><text x="259.01" y="104.28" transform="rotate(-32.94 259.01 104.28)" text-anchor="end" dy="1.8" class="tlg">70%</text><text x="265.89" y="116.69" transform="rotate(-25.06 265.89 116.69)" text-anchor="end" dy="1.8" class="tlg">80%</text><text x="271.00" y="129.92" transform="rotate(-17.18 271.00 129.92)" text-anchor="end" dy="1.8" class="tlg">90%</text><text x="272.52" y="151.64" transform="rotate(-5.00 272.52 151.64)" text-anchor="end" dy="1.8" class="tlg">0%</text><text x="272.80" y="155.98" transform="rotate(-2.52 272.80 155.98)" text-anchor="end" dy="1.8" class="tlg">10%</text><text x="272.90" y="160.33" transform="rotate(-0.04 272.90 160.33)" text-anchor="end" dy="1.8" class="tlg">20%</text><text x="272.81" y="164.68" transform="rotate(2.44 272.81 164.68)" text-anchor="end" dy="1.8" class="tlg">30%</text><text x="272.53" y="169.02" transform="rotate(4.92 272.53 169.02)" text-anchor="end" dy="1.8" class="tlg">40%</text><text x="272.06" y="173.34" transform="rotate(7.40 272.06 173.34)" text-anchor="end" dy="1.8" class="tlg">50%</text><text x="271.41" y="177.64" transform="rotate(9.88 271.41 177.64)" text-anchor="end" dy="1.8" class="tlg">60%</text><text x="270.57" y="181.91" transform="rotate(12.36 270.57 181.91)" text-anchor="end" dy="1.8" class="tlg">70%</text><text x="269.55" y="186.14" transform="rotate(14.84 269.55 186.14)" text-anchor="end" dy="1.8" class="tlg">80%</text><text x="268.34" y="190.32" transform="rotate(17.32 268.34 190.32)" text-anchor="end" dy="1.8" class="tlg">90%</text><text x="264.49" y="200.64" transform="rotate(23.60 264.49 200.64)" text-anchor="end" dy="1.8" class="tlg">0%</text><text x="262.75" y="204.41" transform="rotate(25.97 262.75 204.41)" text-anchor="end" dy="1.8" class="tlg">10%</text><text x="260.85" y="208.11" transform="rotate(28.34 260.85 208.11)" text-anchor="end" dy="1.8" class="tlg">20%</text><text x="258.81" y="211.72" transform="rotate(30.71 258.81 211.72)" text-anchor="end" dy="1.8" class="tlg">30%</text><text x="256.61" y="215.25" transform="rotate(33.08 256.61 215.25)" text-anchor="end" dy="1.8" class="tlg">40%</text><text x="254.27" y="218.69" transform="rotate(35.45 254.27 218.69)" text-anchor="end" dy="1.8" class="tlg">50%</text><text x="251.79" y="222.02" transform="rotate(37.82 251.79 222.02)" text-anchor="end" dy="1.8" class="tlg">60%</text><text x="249.17" y="225.26" transform="rotate(40.19 249.17 225.26)" text-anchor="end" dy="1.8" class="tlg">70%</text><text x="246.43" y="228.37" transform="rotate(42.56 246.43 228.37)" text-anchor="end" dy="1.8" class="tlg">80%</text><text x="243.55" y="231.38" transform="rotate(44.93 243.55 231.38)" text-anchor="end" dy="1.8" class="tlg">90%</text><text x="166.71" y="256.23" transform="rotate(-86.60 166.71 256.23)" text-anchor="start" dy="1.8" class="tl">0%</text><text x="162.48" y="255.89" transform="rotate(-84.07 162.48 255.89)" text-anchor="start" dy="1.8" class="tl">10%</text><text x="158.28" y="255.36" transform="rotate(-81.54 158.28 255.36)" text-anchor="start" dy="1.8" class="tl">20%</text><text x="154.10" y="254.64" transform="rotate(-79.01 154.10 254.64)" text-anchor="start" dy="1.8" class="tl">30%</text><text x="149.96" y="253.74" transform="rotate(-76.48 149.96 253.74)" text-anchor="start" dy="1.8" class="tl">40%</text><text x="145.86" y="252.66" transform="rotate(-73.95 145.86 252.66)" text-anchor="start" dy="1.8" class="tl">50%</text><text x="141.81" y="251.40" transform="rotate(-71.42 141.81 251.40)" text-anchor="start" dy="1.8" class="tl">60%</text><text x="137.82" y="249.96" transform="rotate(-68.89 137.82 249.96)" text-anchor="start" dy="1.8" class="tl">70%</text><text x="133.91" y="248.34" transform="rotate(-66.36 133.91 248.34)" text-anchor="start" dy="1.8" class="tl">80%</text><text x="130.06" y="246.56" transform="rotate(-63.83 130.06 246.56)" text-anchor="start" dy="1.8" class="tl">90%</text><text x="119.69" y="240.64" transform="rotate(-56.70 119.69 240.64)" text-anchor="start" dy="1.8" class="tl">0%</text><text x="116.28" y="238.29" transform="rotate(-54.23 116.28 238.29)" text-anchor="start" dy="1.8" class="tl">10%</text><text x="112.98" y="235.80" transform="rotate(-51.76 112.98 235.80)" text-anchor="start" dy="1.8" class="tl">20%</text><text x="109.79" y="233.17" transform="rotate(-49.29 109.79 233.17)" text-anchor="start" dy="1.8" class="tl">30%</text><text x="106.71" y="230.40" transform="rotate(-46.82 106.71 230.40)" text-anchor="start" dy="1.8" class="tl">40%</text><text x="103.75" y="227.51" transform="rotate(-44.35 103.75 227.51)" text-anchor="start" dy="1.8" class="tl">50%</text><text x="100.92" y="224.49" transform="rotate(-41.88 100.92 224.49)" text-anchor="start" dy="1.8" class="tl">60%</text><text x="98.23" y="221.35" transform="rotate(-39.41 98.23 221.35)" text-anchor="start" dy="1.8" class="tl">70%</text><text x="95.67" y="218.09" transform="rotate(-36.94 95.67 218.09)" text-anchor="start" dy="1.8" class="tl">80%</text><text x="93.26" y="214.73" transform="rotate(-34.47 93.26 214.73)" text-anchor="start" dy="1.8" class="tl">90%</text><text x="86.94" y="204.13" transform="rotate(-27.10 86.94 204.13)" text-anchor="start" dy="1.8" class="tl">0%</text><text x="85.09" y="200.32" transform="rotate(-24.57 85.09 200.32)" text-anchor="start" dy="1.8" class="tl">10%</text><text x="83.42" y="196.42" transform="rotate(-22.04 83.42 196.42)" text-anchor="start" dy="1.8" class="tl">20%</text><text x="81.91" y="192.46" transform="rotate(-19.51 81.91 192.46)" text-anchor="start" dy="1.8" class="tl">30%</text><text x="80.58" y="188.44" transform="rotate(-16.98 80.58 188.44)" text-anchor="start" dy="1.8" class="tl">40%</text><text x="79.44" y="184.36" transform="rotate(-14.45 79.44 184.36)" text-anchor="start" dy="1.8" class="tl">50%</text><text x="78.47" y="180.23" transform="rotate(-11.92 78.47 180.23)" text-anchor="start" dy="1.8" class="tl">60%</text><text x="77.69" y="176.06" transform="rotate(-9.39 77.69 176.06)" text-anchor="start" dy="1.8" class="tl">70%</text><text x="77.09" y="171.87" transform="rotate(-6.86 77.09 171.87)" text-anchor="start" dy="1.8" class="tl">80%</text><text x="76.67" y="167.65" transform="rotate(-4.33 76.67 167.65)" text-anchor="start" dy="1.8" class="tl">90%</text><text x="76.52" y="155.54" transform="rotate(2.90 76.52 155.54)" text-anchor="start" dy="1.8" class="tl">0%</text><text x="76.84" y="151.23" transform="rotate(5.48 76.84 151.23)" text-anchor="start" dy="1.8" class="tl">10%</text><text x="77.35" y="146.94" transform="rotate(8.06 77.35 146.94)" text-anchor="start" dy="1.8" class="tl">20%</text><text x="78.05" y="142.67" transform="rotate(10.64 78.05 142.67)" text-anchor="start" dy="1.8" class="tl">30%</text><text x="78.94" y="138.45" transform="rotate(13.22 78.94 138.45)" text-anchor="start" dy="1.8" class="tl">40%</text><text x="80.03" y="134.26" transform="rotate(15.80 80.03 134.26)" text-anchor="start" dy="1.8" class="tl">50%</text><text x="81.30" y="130.13" transform="rotate(18.38 81.30 130.13)" text-anchor="start" dy="1.8" class="tl">60%</text><text x="82.75" y="126.06" transform="rotate(20.96 82.75 126.06)" text-anchor="start" dy="1.8" class="tl">70%</text><text x="84.39" y="122.06" transform="rotate(23.54 84.39 122.06)" text-anchor="start" dy="1.8" class="tl">80%</text><text x="86.20" y="118.14" transform="rotate(26.12 86.20 118.14)" text-anchor="start" dy="1.8" class="tl">90%</text><text x="92.07" y="107.83" transform="rotate(33.20 92.07 107.83)" text-anchor="start" dy="1.8" class="tl">0%</text><text x="94.43" y="104.39" transform="rotate(35.69 94.43 104.39)" text-anchor="start" dy="1.8" class="tl">10%</text><text x="96.94" y="101.06" transform="rotate(38.18 96.94 101.06)" text-anchor="start" dy="1.8" class="tl">20%</text><text x="99.59" y="97.84" transform="rotate(40.67 99.59 97.84)" text-anchor="start" dy="1.8" class="tl">30%</text><text x="102.37" y="94.73" transform="rotate(43.16 102.37 94.73)" text-anchor="start" dy="1.8" class="tl">40%</text><text x="105.29" y="91.75" transform="rotate(45.65 105.29 91.75)" text-anchor="start" dy="1.8" class="tl">50%</text><text x="108.34" y="88.90" transform="rotate(48.14 108.34 88.90)" text-anchor="start" dy="1.8" class="tl">60%</text><text x="111.50" y="86.19" transform="rotate(50.63 111.50 86.19)" text-anchor="start" dy="1.8" class="tl">70%</text><text x="114.79" y="83.61" transform="rotate(53.12 114.79 83.61)" text-anchor="start" dy="1.8" class="tl">80%</text><text x="118.18" y="81.18" transform="rotate(55.61 118.18 81.18)" text-anchor="start" dy="1.8" class="tl">90%</text><text x="128.52" y="75.02" transform="rotate(62.80 128.52 75.02)" text-anchor="start" dy="1.8" class="tl">0%</text><text x="132.28" y="73.18" transform="rotate(65.30 132.28 73.18)" text-anchor="start" dy="1.8" class="tl">10%</text><text x="136.13" y="71.52" transform="rotate(67.80 136.13 71.52)" text-anchor="start" dy="1.8" class="tl">20%</text><text x="140.04" y="70.02" transform="rotate(70.30 140.04 70.02)" text-anchor="start" dy="1.8" class="tl">30%</text><text x="144.01" y="68.69" transform="rotate(72.80 144.01 68.69)" text-anchor="start" dy="1.8" class="tl">40%</text><text x="148.04" y="67.54" transform="rotate(75.30 148.04 67.54)" text-anchor="start" dy="1.8" class="tl">50%</text><text x="152.11" y="66.57" transform="rotate(77.80 152.11 66.57)" text-anchor="start" dy="1.8" class="tl">60%</text><text x="156.23" y="65.77" transform="rotate(80.30 156.23 65.77)" text-anchor="start" dy="1.8" class="tl">70%</text><text x="160.37" y="65.16" transform="rotate(82.80 160.37 65.16)" text-anchor="start" dy="1.8" class="tl">80%</text><text x="164.53" y="64.72" transform="rotate(85.30 164.53 64.72)" text-anchor="start" dy="1.8" class="tl">90%</text><text x="255.16" y="154.03" transform="rotate(-4.40 255.16 154.03)" text-anchor="start" dy="1.8" class="tlg">0k</text><text x="248.11" y="194.42" transform="rotate(24.20 248.11 194.42)" text-anchor="start" dy="1.8" class="tlg">0k</text><text x="224.18" y="225.27" transform="rotate(51.40 224.18 225.27)" text-anchor="start" dy="1.8" class="tlg">8k</text><text x="199.97" y="238.69" transform="rotate(70.60 199.97 238.69)" text-anchor="start" dy="1.8" class="tlg">8k</text></g></g>
<text x="141.5" y="46.6" transform="rotate(-14 141.5 46.6)" class="sl" text-anchor="middle">Ntr</text>
<text x="88.3" y="77.6" transform="rotate(-45 88.3 77.6)" class="sl" text-anchor="middle">Sxr</text>
<text x="57.9" y="129.2" transform="rotate(-75 57.9 129.2)" class="sl" text-anchor="middle">Tmr</text>
<text x="53.1" y="196" transform="rotate(66 53.1 196)" class="sl" text-anchor="middle">Nts</text>
<text x="84.1" y="246.3" transform="rotate(40 84.1 246.3)" class="sl" text-anchor="middle">Sxs</text>
<text x="138.3" y="278.4" transform="rotate(17 138.3 278.4)" class="sl" text-anchor="middle">Tms</text>
<text x="234.6" y="47.2" transform="rotate(47.0 234.6 47.2)" class="gl" text-anchor="start">unclassified_p_Mucoromycota</text>
<text x="297" y="144" transform="rotate(95 297 144)" class="gl" text-anchor="start">unclassified_k_Fungi</text>
<text x="305.8" y="204" transform="rotate(121 305.8 204)" class="gl" text-anchor="start">unclassified_f_Glomeraceae</text>
<text x="236" y="270" transform="rotate(-29 236 270)" class="gl" text-anchor="middle">Glomus</text>
<text x="209" y="287" transform="rotate(-13 209 287)" class="gl" text-anchor="middle">Rhizophagus</text>
<text x="167" y="289.5" transform="rotate(5 167 289.5)" class="gl" text-anchor="middle">Others</text>
<text x="187" y="298" transform="rotate(0 187 298)" class="gl" text-anchor="middle">Septoglomus</text>
<text x="10.5" y="283" class="lt">a Genus</text>
<line x1="11" y1="287.5" x2="68.5" y2="287.5" stroke="#222" stroke-width="1"/>
<rect x="11" y="292.5" width="6.8" height="6.6" fill="#c990c8"/>
<text x="21" y="297.8" class="li">Others</text>
<rect x="11" y="302.8" width="6.8" height="6.6" fill="#f2cc48"/>
<text x="21" y="308.1" class="li">Glomus</text>
<rect x="11" y="313.1" width="6.8" height="6.6" fill="#d8a8d8"/>
<text x="21" y="318.4" class="li">Rhizophagus</text>
<rect x="11" y="323.4" width="6.8" height="6.6" fill="#c8dcf0"/>
<text x="21" y="328.7" class="li">Septoglomus</text>
<rect x="11" y="333.7" width="6.8" height="6.6" fill="#ee7a7a"/>
<text x="21" y="339.0" class="li">unclassified_k_Fungi</text>
<rect x="11" y="344.0" width="6.8" height="6.6" fill="#e8e0a0"/>
<text x="21" y="349.3" class="li">unclassified_f_Glomeraceae</text>
<rect x="11" y="354.3" width="6.8" height="6.6" fill="#f8c8d0"/>
<text x="21" y="359.6" class="li">unclassified_p_Mucoromycota</text>
<text x="169.6" y="353.6" class="lt">Colored ranges</text>
<line x1="169.6" y1="359.5" x2="250" y2="359.5" stroke="#222" stroke-width="1"/>
<rect x="170" y="363.4" width="7" height="7" fill="#ee3e44"/>
<text x="178.4" y="369.0" class="li">Tms</text>
<rect x="199.6" y="363.4" width="7" height="7" fill="#3c9a58"/>
<text x="208.0" y="369.0" class="li">Nts</text>
<rect x="229.4" y="363.4" width="7" height="7" fill="#8e3ea0"/>
<text x="237.8" y="369.0" class="li">Sxr</text>
<rect x="170" y="374.2" width="7" height="7" fill="#4064b4"/>
<text x="178.4" y="379.8" class="li">Sxs</text>
<rect x="199.6" y="374.2" width="7" height="7" fill="#eee844"/>
<text x="208.0" y="379.8" class="li">Tmr</text>
<rect x="229.4" y="374.2" width="7" height="7" fill="#ee6838"/>
<text x="237.8" y="379.8" class="li">Ntr</text>
<defs><clipPath id="bR"><circle cx="401" cy="88" r="57"/></clipPath><clipPath id="bB"><circle cx="458" cy="88" r="57"/></clipPath><clipPath id="bRB" clip-path="url(#bR)"><circle cx="458" cy="88" r="57"/></clipPath></defs>
<circle cx="401" cy="88" r="57" fill="#ee5b61"/>
<circle cx="458" cy="88" r="57" fill="#6080bb"/>
<circle cx="429.5" cy="145" r="57" fill="#5aa574"/>
<circle cx="458" cy="88" r="57" fill="#414898" clip-path="url(#bR)"/>
<circle cx="429.5" cy="145" r="57" fill="#4a7444" clip-path="url(#bR)"/>
<circle cx="429.5" cy="145" r="57" fill="#286e50" clip-path="url(#bB)"/>
<circle cx="429.5" cy="145" r="57" fill="#1a6040" clip-path="url(#bRB)"/>
<text x="373" y="86.1" class="vn" text-anchor="middle" dy="2.3">10</text>
<text x="429" y="57.5" class="vn" text-anchor="middle" dy="2.3">6</text>
<text x="486" y="85" class="vn" text-anchor="middle" dy="2.3">1</text>
<text x="429.8" y="114.3" class="vn" text-anchor="middle" dy="2.3">116</text>
<text x="401.5" y="129" class="vn" text-anchor="middle" dy="2.3">22</text>
<text x="458.3" y="128.3" class="vn" text-anchor="middle" dy="2.3">1</text>
<text x="430.3" y="171.7" class="vn" text-anchor="middle" dy="2.3">8</text>
<text x="322" y="91.4" class="vl">Tms</text>
<text x="516.8" y="88.8" class="vl">Sxs</text>
<text x="487" y="174.7" class="vl">Nts</text>
<text x="420" y="27.3" class="vt">Venn</text>
<circle cx="517.3" cy="25.9" r="3.2" fill="#ee5b61"/>
<text x="522.5" y="27.599999999999998" class="lg">Tms</text>
<circle cx="517.3" cy="33.699999999999996" r="3.2" fill="#6080bb"/>
<text x="522.5" y="35.4" class="lg">Sxs</text>
<circle cx="517.3" cy="41.5" r="3.2" fill="#5aa574"/>
<text x="522.5" y="43.2" class="lg">Nts</text>
<defs><clipPath id="cR"><circle cx="407" cy="304.5" r="50"/></clipPath><clipPath id="cB"><circle cx="457" cy="304.5" r="50"/></clipPath><clipPath id="cRB" clip-path="url(#cR)"><circle cx="457" cy="304.5" r="50"/></clipPath></defs>
<circle cx="407" cy="304.5" r="50" fill="#ee5b61"/>
<circle cx="457" cy="304.5" r="50" fill="#6080bb"/>
<circle cx="432.0" cy="354.5" r="50" fill="#5aa574"/>
<circle cx="457" cy="304.5" r="50" fill="#414898" clip-path="url(#cR)"/>
<circle cx="432.0" cy="354.5" r="50" fill="#4a7444" clip-path="url(#cR)"/>
<circle cx="432.0" cy="354.5" r="50" fill="#286e50" clip-path="url(#cB)"/>
<circle cx="432.0" cy="354.5" r="50" fill="#1a6040" clip-path="url(#cRB)"/>
<text x="382.4" y="302.5" class="vn2" text-anchor="middle" dy="2.3">25</text>
<text x="431.8" y="277" class="vn2" text-anchor="middle" dy="2.3">4</text>
<text x="478.3" y="301.8" class="vn2" text-anchor="middle" dy="2.3">5</text>
<text x="432.7" y="326.4" class="vn2" text-anchor="middle" dy="2.3" style="font-size:6.3px">116</text>
<text x="407.3" y="339.8" class="vn2" text-anchor="middle" dy="2.3">4</text>
<text x="457.3" y="339.8" class="vn2" text-anchor="middle" dy="2.3">1</text>
<text x="433.7" y="373" class="vn2" text-anchor="middle" dy="2.3">5</text>
<text x="330.3" y="302.2" class="vl">Tmr</text>
<text x="512" y="306.4" class="vl">Sxr</text>
<text x="476.1" y="387.6" class="vl">Ntr</text>
<text x="421.5" y="244" class="vt">Venn</text>
<circle cx="506.4" cy="240.2" r="3.2" fill="#ee5b61"/>
<text x="511.59999999999997" y="241.89999999999998" class="lg">Tmr</text>
<circle cx="506.4" cy="248.0" r="3.2" fill="#6080bb"/>
<text x="511.59999999999997" y="249.7" class="lg">Sxr</text>
<circle cx="506.4" cy="255.79999999999998" r="3.2" fill="#5aa574"/>
<text x="511.59999999999997" y="257.5" class="lg">Ntr</text>
</svg>
</body></html>
